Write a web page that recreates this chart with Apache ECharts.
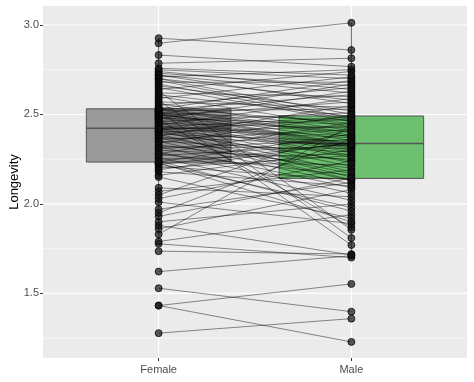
<!DOCTYPE html>
<html><head><meta charset="utf-8">
<script src="https://cdn.jsdelivr.net/npm/echarts@6/dist/echarts.min.js"></script>
<style>html,body{margin:0;padding:0;background:#fff}#c{width:474px;height:382px}</style>
</head><body><div id="c"></div>
<script>
const categories = ['Female', 'Male'];
const female = [1.278,1.432,1.432,1.529,1.622,1.736,1.777,1.79,1.83,1.86,1.88,1.90,1.93,1.95,1.97,2.01,2.03,2.05,2.07,2.09,2.15,2.16,2.18,2.19,2.20,2.21,2.22,2.225,2.23,2.23,
2.235,2.24,2.25,2.26,2.27,2.28,2.28,2.29,2.30,2.31,2.32,2.32,2.33,2.34,2.35,2.35,2.36,2.37,2.37,2.38,2.38,2.39,2.39,2.40,2.40,2.41,2.41,2.415,2.42,2.42,
2.425,2.43,2.43,2.44,2.44,2.45,2.45,2.46,2.46,2.47,2.47,2.475,2.48,2.48,2.485,2.49,2.49,2.495,2.50,2.50,2.505,2.51,2.51,2.515,2.52,2.52,2.525,2.525,2.53,2.53,
2.535,2.54,2.55,2.56,2.57,2.58,2.59,2.60,2.61,2.62,2.63,2.64,2.65,2.66,2.67,2.68,2.69,2.70,2.70,2.71,2.72,2.72,2.73,2.74,2.75,2.758,2.786,2.832,2.898,2.926];
const male = [1.359,1.553,1.229,1.398,1.71,1.72,1.70,1.94,2.44,2.08,1.715,2.00,2.145,2.365,2.12,1.89,2.24,2.42,2.19,2.04,1.92,2.30,2.10,2.345,2.27,2.135,2.34,1.98,2.22,1.90,
2.39,1.96,2.28,2.02,2.33,2.16,2.455,2.06,2.25,2.36,2.09,2.31,2.20,2.495,2.11,2.29,2.415,2.13,2.335,2.17,2.55,2.135,2.35,2.24,2.435,2.15,2.32,2.475,2.18,2.37,
2.21,2.485,2.38,2.23,2.59,2.26,2.425,2.27,2.51,2.29,1.87,2.63,2.30,2.445,2.31,2.57,2.32,2.40,2.325,2.67,2.33,2.465,2.335,2.355,2.53,1.77,2.61,2.375,2.69,2.385,
2.40,2.45,2.65,2.41,2.54,1.81,2.71,2.43,2.49,2.60,1.855,2.74,2.46,2.52,2.47,2.68,2.48,2.58,2.50,2.75,2.56,2.62,2.66,2.64,2.70,2.72,2.814,2.767,3.012,2.86];
const yMajor = [1.5, 2.0, 2.5, 3.0];
const yMinor = [1.25, 1.75, 2.25, 2.75];
const boxFill = ['#9a9a9a', '#6dc06f'];

function quant(arr, p) {
  const s = arr.slice().sort((a, b) => a - b);
  const h = (s.length - 1) * p, lo = Math.floor(h);
  return lo + 1 < s.length ? s[lo] + (h - lo) * (s[lo + 1] - s[lo]) : s[lo];
}
function boxStats(arr, x) {
  const q1 = quant(arr, 0.25), med = quant(arr, 0.5), q3 = quant(arr, 0.75);
  const iqr = q3 - q1;
  const lo = Math.min(...arr.filter(v => v >= q1 - 1.5 * iqr));
  const hi = Math.max(...arr.filter(v => v <= q3 + 1.5 * iqr));
  return [x, lo, q1, med, q3, hi];
}
const boxData = [boxStats(female, 1), boxStats(male, 2)];
const pairData = female.map((f, i) => [1, f, 2, male[i]]);

const X0 = 0.4, X1 = 2.6, Y0 = 1.139, Y1 = 3.106;
const font = 'Liberation Sans, Arial, sans-serif';

function hLine(w) {
  return function (params, api) {
    const y = api.value(0);
    const a = api.coord([X0, y]), b = api.coord([X1, y]);
    return { type: 'line', shape: { x1: a[0], y1: a[1], x2: b[0], y2: b[1] }, style: { stroke: '#ffffff', lineWidth: w } };
  };
}

const chart = echarts.init(document.getElementById('c'), null, { renderer: 'canvas' });
chart.setOption({
  animation: false,
  backgroundColor: '#ffffff',
  grid: { left: 43, right: 7, top: 6, bottom: 24, show: true, backgroundColor: '#ebebeb', borderWidth: 0, containLabel: false, outerBoundsMode: 'none' },
  xAxis: {
    type: 'value', min: X0, max: X1,
    axisLine: { show: false },
    splitLine: { show: false },
    axisTick: { show: true, customValues: [1, 2], length: 3, lineStyle: { color: '#333333', width: 1 } },
    axisLabel: { customValues: [1, 2], formatter: v => categories[Math.round(v) - 1], color: '#4d4d4d', fontSize: 11, fontFamily: font, margin: 6 }
  },
  yAxis: {
    type: 'value', min: Y0, max: Y1,
    name: 'Longevity', nameLocation: 'middle', nameGap: 22, nameRotate: 90, nameMoveOverlap: false,
    nameTextStyle: { color: '#000000', fontSize: 13, fontFamily: font },
    axisLine: { show: false },
    splitLine: { show: false },
    axisTick: { show: true, customValues: yMajor, length: 3, lineStyle: { color: '#333333', width: 1 } },
    axisLabel: { customValues: yMajor, formatter: v => v.toFixed(1), color: '#4d4d4d', fontSize: 11, fontFamily: font, margin: 4 }
  },
  series: [
    { type: 'custom', z: 1, silent: true, data: yMinor.map(v => [v]), encode: { y: 0 }, renderItem: hLine(0.55) },
    { type: 'custom', z: 1, silent: true, data: yMajor.map(v => [v]), encode: { y: 0 }, renderItem: hLine(1.1) },
    { type: 'custom', z: 1, silent: true, data: [[1], [2]], encode: { x: 0 },
      renderItem: function (params, api) {
        const x = api.value(0);
        const a = api.coord([x, Y0]), b = api.coord([x, Y1]);
        return { type: 'line', shape: { x1: a[0], y1: a[1], x2: b[0], y2: b[1] }, style: { stroke: '#ffffff', lineWidth: 1.1 } };
      } },
    { type: 'custom', z: 2, silent: true, data: boxData,
      renderItem: function (params, api) {
        const x = api.value(0), lo = api.value(1), q1 = api.value(2), med = api.value(3), q3 = api.value(4), hi = api.value(5);
        const w = 0.375;
        const tl = api.coord([x - w, q3]), br = api.coord([x + w, q1]);
        const m1 = api.coord([x - w, med]), m2 = api.coord([x + w, med]);
        const wh1 = api.coord([x, hi]), wh2 = api.coord([x, q3]);
        const wl1 = api.coord([x, q1]), wl2 = api.coord([x, lo]);
        const stroke = '#555555';
        return { type: 'group', children: [
          { type: 'line', shape: { x1: wh1[0], y1: wh1[1], x2: wh2[0], y2: wh2[1] }, style: { stroke: '#666666', lineWidth: 1 } },
          { type: 'line', shape: { x1: wl1[0], y1: wl1[1], x2: wl2[0], y2: wl2[1] }, style: { stroke: '#666666', lineWidth: 1 } },
          { type: 'rect', shape: { x: tl[0], y: tl[1], width: br[0] - tl[0], height: br[1] - tl[1] }, style: { fill: boxFill[params.dataIndex], stroke: stroke, lineWidth: 1 } },
          { type: 'line', shape: { x1: m1[0], y1: m1[1], x2: m2[0], y2: m2[1] }, style: { stroke: stroke, lineWidth: 1.6 } }
        ] };
      } },
    { type: 'custom', z: 3, silent: true, data: pairData,
      renderItem: function (params, api) {
        const a = api.coord([api.value(0), api.value(1)]), b = api.coord([api.value(2), api.value(3)]);
        return { type: 'line', shape: { x1: a[0], y1: a[1], x2: b[0], y2: b[1] }, style: { stroke: 'rgba(0,0,0,0.6)', lineWidth: 0.75 } };
      } },
    { type: 'scatter', z: 4, silent: true, symbolSize: 7,
      data: female.map(v => [1, v]).concat(male.map(v => [2, v])),
      itemStyle: { color: 'rgba(20,20,20,0.7)', borderColor: 'rgba(0,0,0,0.9)', borderWidth: 0.8, opacity: 1 } }
  ]
});
</script>
</body></html>
